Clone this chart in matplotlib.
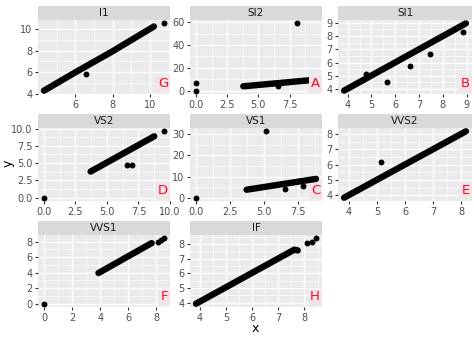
import matplotlib
matplotlib.use("Agg")
import matplotlib.pyplot as plt
from matplotlib.ticker import MultipleLocator

# Facet order (left to right, top to bottom)
facets = ["I1", "SI2", "SI1", "VS2", "VS1", "VVS2", "VVS1", "IF"]
letters = ["G", "A", "B", "D", "C", "E", "F", "H"]

# Dense main trend of each clarity group (x, y along the band)
band_x = {
    "I1": [4.33, 6.0, 8.0, 10.2],
    "SI2": [3.79, 9.62],
    "SI1": [3.85, 8.97],
    "VS2": [3.70, 8.75],
    "VS1": [3.73, 8.85],
    "VVS2": [3.83, 8.17],
    "VVS1": [3.88, 7.67],
    "IF": [3.85, 7.61, 7.74],
}
band_y = {
    "I1": [4.28, 5.98, 7.95, 10.25],
    "SI2": [3.78, 9.60],
    "SI1": [3.88, 8.95],
    "VS2": [3.78, 8.88],
    "VS1": [3.76, 8.90],
    "VVS2": [3.85, 8.18],
    "VVS1": [3.95, 7.80],
    "IF": [3.92, 7.62, 7.57],
}
# Individual diamonds away from the band
pts_x = {
    "I1": [10.74, 6.55],
    "SI2": [0.0, 0.0, 8.09, 6.6],
    "SI1": [5.65, 6.64, 7.45, 8.84, 4.78],
    "VS2": [0.0, 6.55, 7.0, 9.5],
    "VS1": [0.0, 5.14, 6.6, 7.9],
    "VVS2": [5.14],
    "VVS1": [0.0, 8.15, 8.35, 8.55],
    "IF": [8.1, 8.29, 8.44],
}
pts_y = {
    "I1": [10.54, 5.85],
    "SI2": [0.0, 6.6, 58.9, 4.2],
    "SI1": [4.55, 5.73, 6.65, 8.33, 5.12],
    "VS2": [0.0, 4.71, 4.77, 9.6],
    "VS1": [0.0, 31.4, 4.1, 5.6],
    "VVS2": [6.17],
    "VVS1": [0.0, 8.0, 8.2, 8.42],
    "IF": [8.1, 8.17, 8.4],
}
# Axis tick values and labels per facet
xticks = {
    "I1": [6, 8, 10], "SI2": [0, 2.5, 5, 7.5], "SI1": [4, 5, 6, 7, 8, 9],
    "VS2": [0, 2.5, 5, 7.5, 10], "VS1": [0, 2.5, 5, 7.5], "VVS2": [4, 5, 6, 7, 8],
    "VVS1": [0, 2, 4, 6, 8], "IF": [4, 5, 6, 7, 8],
}
xlabels = {
    "I1": ["6", "8", "10"], "SI2": ["0.0", "2.5", "5.0", "7.5"],
    "SI1": ["4", "5", "6", "7", "8", "9"],
    "VS2": ["0.0", "2.5", "5.0", "7.5", "10.0"], "VS1": ["0.0", "2.5", "5.0", "7.5"],
    "VVS2": ["4", "5", "6", "7", "8"], "VVS1": ["0", "2", "4", "6", "8"],
    "IF": ["4", "5", "6", "7", "8"],
}
yticks = {
    "I1": [4, 6, 8, 10], "SI2": [0, 20, 40, 60], "SI1": [4, 5, 6, 7, 8, 9],
    "VS2": [0, 2.5, 5, 7.5, 10], "VS1": [0, 10, 20, 30], "VVS2": [4, 5, 6, 7, 8],
    "VVS1": [0, 2, 4, 6, 8], "IF": [4, 5, 6, 7, 8],
}
ylabels = {
    "I1": ["4", "6", "8", "10"], "SI2": ["0", "20", "40", "60"],
    "SI1": ["4", "5", "6", "7", "8", "9"],
    "VS2": ["0.0", "2.5", "5.0", "7.5", "10.0"], "VS1": ["0", "10", "20", "30"],
    "VVS2": ["4", "5", "6", "7", "8"], "VVS1": ["0", "2", "4", "6", "8"],
    "IF": ["4", "5", "6", "7", "8"],
}

W, H = 474, 338
fig = plt.figure(figsize=(W / 100, H / 100), dpi=100)
fig.patch.set_facecolor("white")

col_edges = [(38, 170), (190, 322), (338, 472)]
row_edges = [(20, 94), (128, 201), (235, 307)]
strip_h = 14

for i, name in enumerate(facets):
    r, c = divmod(i, 3)
    x0, x1 = col_edges[c]
    y0, y1 = row_edges[r]
    ax = fig.add_axes([x0 / W, 1 - y1 / H, (x1 - x0) / W, (y1 - y0) / H])
    ax.set_facecolor("#EBEBEB")
    for s in ax.spines.values():
        s.set_visible(False)

    ax.plot(band_x[name], band_y[name], color="black", lw=4.6,
            solid_capstyle="round", zorder=3)
    ax.scatter(pts_x[name], pts_y[name], s=18, color="black", lw=0, zorder=4)
    ax.margins(0.05)

    xt, yt = xticks[name], yticks[name]
    ax.set_xticks(xt, xlabels[name])
    ax.set_yticks(yt, ylabels[name])
    ax.xaxis.set_minor_locator(MultipleLocator((xt[1] - xt[0]) / 2))
    ax.yaxis.set_minor_locator(MultipleLocator((yt[1] - yt[0]) / 2))
    ax.grid(which="major", color="white", lw=1.0)
    ax.grid(which="minor", color="white", lw=0.5)
    ax.set_axisbelow(True)
    ax.tick_params(which="major", length=2.5, width=0.8, color="#333333",
                   labelsize=7, labelcolor="#4D4D4D", pad=1.5)
    ax.tick_params(which="minor", length=0)

    ax.text(0.985, 0.14, letters[i], transform=ax.transAxes, ha="right",
            va="center", color="#E8112D", fontsize=9.5, zorder=5,
            bbox=dict(boxstyle="square,pad=0.12", fc="#F3E3E6", ec="none"))

    # strip header
    sx = fig.add_axes([x0 / W, 1 - y0 / H, (x1 - x0) / W, strip_h / H])
    sx.set_facecolor("#D9D9D9")
    sx.set_xticks([])
    sx.set_yticks([])
    for s in sx.spines.values():
        s.set_visible(False)
    sx.text(0.5, 0.5, name, transform=sx.transAxes, ha="center", va="center",
            fontsize=7.5, color="#1A1A1A")

fig.text(255 / W, 1 - 329 / H, "x", ha="center", va="center", fontsize=9,
         color="black")
fig.text(8 / W, 1 - 163 / H, "y", ha="center", va="center", fontsize=9,
         color="black", rotation=90)

fig.savefig("out.png", dpi=100)
